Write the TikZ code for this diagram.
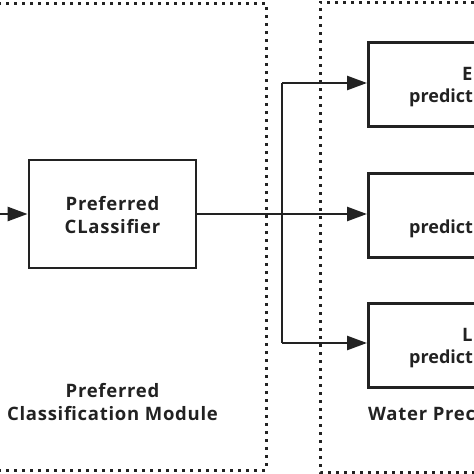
\documentclass[tikz,border=0pt]{standalone}
\usepackage{fontspec}
\setmainfont{Open Sans}[LetterSpace=4]
\usetikzlibrary{arrows.meta}
\definecolor{ink}{HTML}{222222}
\tikzset{
  box/.style={draw=ink, line width=2.8pt, inner sep=0pt},
  dotbox/.style={draw=ink, line width=3pt, dash pattern=on 3.2pt off 4.8pt},
  conn/.style={draw=ink, line width=2.6pt, -{Triangle[length=20pt,width=14pt]}},
  line/.style={draw=ink, line width=2.6pt},
  lbl/.style={text=ink, font=\fontsize{18.5}{22.5}\selectfont\bfseries, inner sep=0pt, align=center},
  tight/.style={lbl, font=\fontsize{18}{22}\selectfont\bfseries\addfontfeatures{LetterSpace=0}},
}
\begin{document}
\begin{tikzpicture}[x=1pt,y=-1pt]
\useasboundingbox (0,0) rectangle (474,474);
\clip (0,0) rectangle (474,474);
% dotted module boxes
\draw[dotbox] (-10,3) -- (266,3) -- (266,470) -- (-10,470);
\draw[dotbox] (490,2) -- (320,2) -- (320,472) -- (490,472);
% classifier
\node[box, minimum width=167pt, minimum height=108pt] (cls) at (112.5,214) {};
\node[lbl] (clst) at (112.5,215) {Preferred\\CLassifier};
\coordinate (in) at (-2,214);
\draw[conn] (in) -- (cls.west);
% right boxes (cut by the edge)
\node[box, anchor=north west, minimum width=140pt, minimum height=84pt] (b1) at (367,41) {};
\node[box, anchor=north west, minimum width=140pt, minimum height=84pt] (b2) at (367,172) {};
\node[box, anchor=north west, minimum width=140pt, minimum height=84pt] (b3) at (367,302) {};
\node[lbl, anchor=base west] (t1a) at (462,80) {E};
\node[tight, anchor=base west] (t1b) at (409,102) {predict};
\node[tight, anchor=base west] (t2b) at (409,233) {predict};
\node[lbl, anchor=base west] (t3a) at (462,341) {L};
\node[tight, anchor=base west] (t3b) at (409,363) {predict};
% connectors
\coordinate (j) at (282,214);
\coordinate (jt) at (282,83);
\coordinate (jb) at (282,343);
\draw[conn] (cls.east) -- (j) -- (b2.west |- j);
\draw[line] (jt) -- (jb);
\draw[conn] (jt) -- (b1.west |- jt);
\draw[conn] (jb) -- (b3.west |- jb);
% module labels
\node[lbl] (m1) at (112.5,402) {Preferred\\Classification Module};
\node[lbl, anchor=base west] (m2) at (368,420) {Water Prec};
\end{tikzpicture}
\end{document}
